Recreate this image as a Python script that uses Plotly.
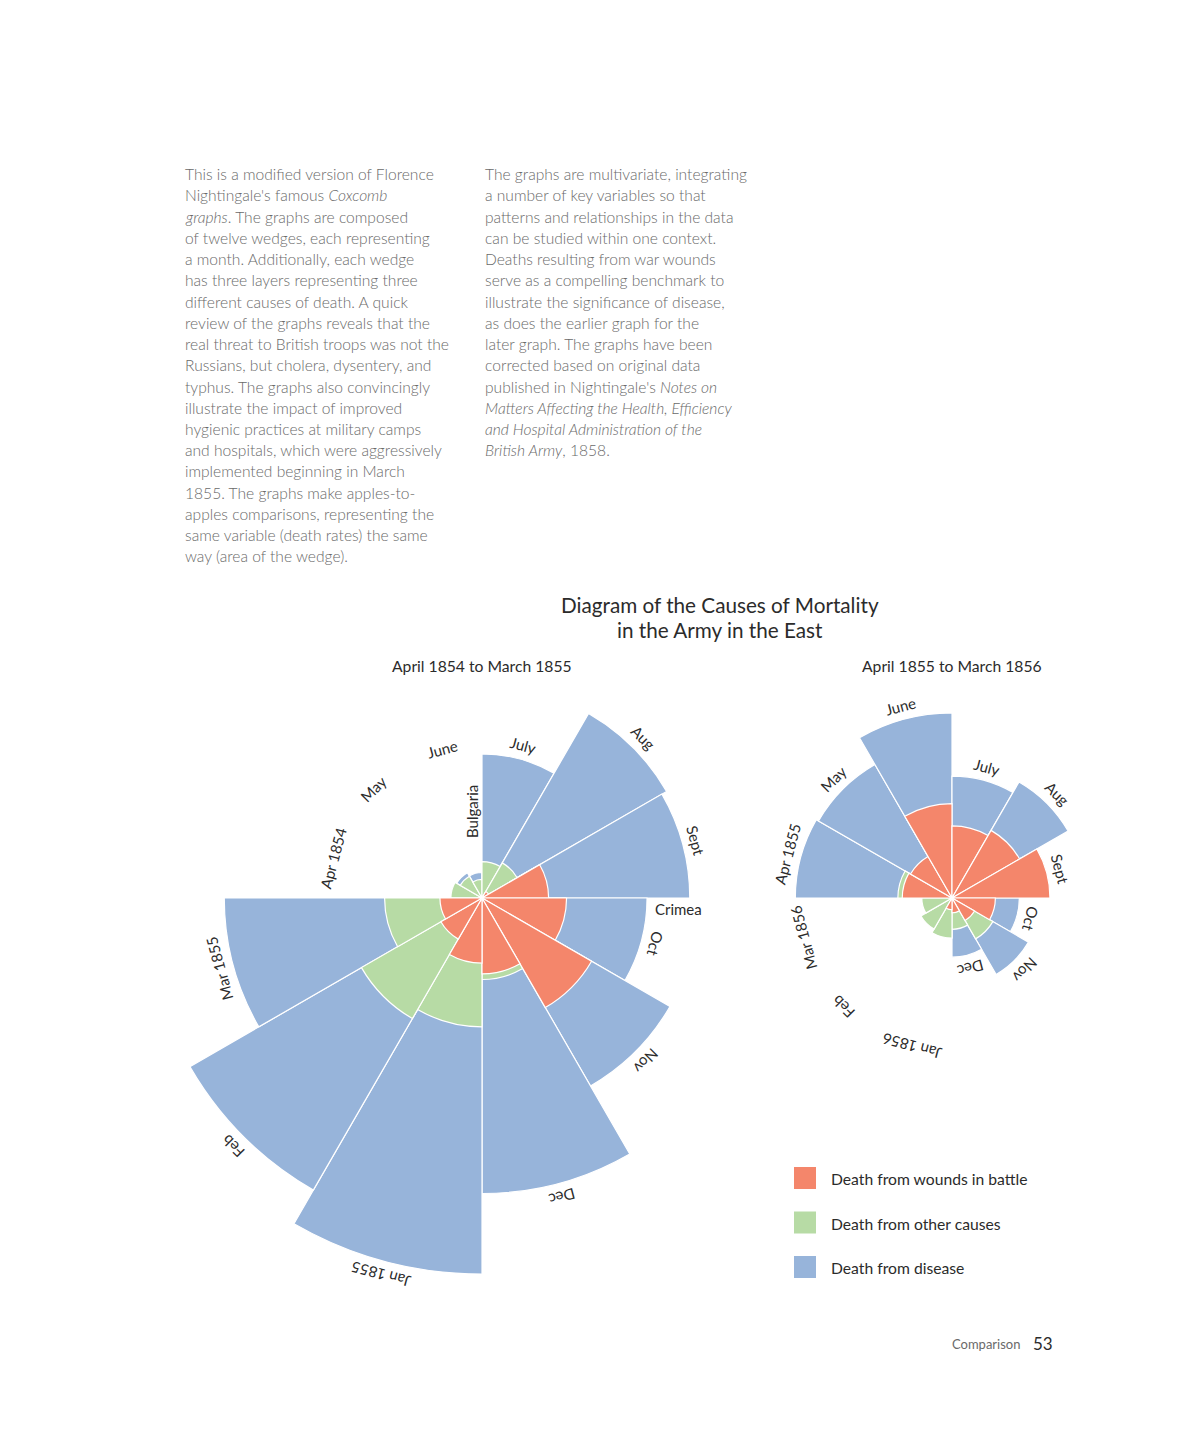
import math
import plotly.graph_objects as go

W, H = 1200, 1442

# ---------------- data (annual mortality rate per 1,000) ----------------
months_1 = ["Apr 1854", "May", "June", "July", "Aug", "Sept", "Oct", "Nov", "Dec",
            "Jan 1855", "Feb", "Mar 1855"]
disease_1 = [1.4, 6.2, 4.7, 150.0, 328.5, 312.2, 197.0, 340.6, 631.5, 1022.8, 822.8, 480.3]
wounds_1 = [0.0, 0.0, 0.0, 0.0, 0.4, 32.1, 51.7, 115.8, 41.7, 30.7, 16.3, 12.8]
other_1 = [7.0, 4.6, 2.5, 9.6, 11.9, 27.7, 50.1, 42.8, 48.0, 120.0, 140.1, 68.6]

months_2 = ["Apr 1855", "May", "June", "July", "Aug", "Sept", "Oct", "Nov", "Dec",
            "Jan 1856", "Feb", "Mar 1856"]
disease_2 = [177.5, 171.8, 247.6, 107.5, 129.9, 47.5, 32.8, 56.4, 25.3, 11.4, 6.6, 3.9]
wounds_2 = [17.9, 16.6, 64.5, 37.7, 44.1, 69.4, 13.6, 4.9, 1.6, 1.0, 0.0, 0.0]
other_2 = [21.2, 12.5, 9.6, 7.7, 7.1, 10.6, 8.2, 16.1, 7.1, 11.6, 9.3, 6.6]

series_names = ["Death from wounds in battle", "Death from other causes", "Death from disease"]
colors = {"wounds": "#F4866B", "other": "#B7DBA5", "disease": "#97B4DA"}

text_col1 = [
    "This is a modified version of Florence",
    "Nightingale's famous <i>Coxcomb</i>",
    "<i>graphs</i>. The graphs are composed",
    "of twelve wedges, each representing",
    "a month. Additionally, each wedge",
    "has three layers representing three",
    "different causes of death. A quick",
    "review of the graphs reveals that the",
    "real threat to British troops was not the",
    "Russians, but cholera, dysentery, and",
    "typhus. The graphs also convincingly",
    "illustrate the impact of improved",
    "hygienic practices at military camps",
    "and hospitals, which were aggressively",
    "implemented beginning in March",
    "1855. The graphs make apples-to-",
    "apples comparisons, representing the",
    "same variable (death rates) the same",
    "way (area of the wedge).",
]
text_col2 = [
    "The graphs are multivariate, integrating",
    "a number of key variables so that",
    "patterns and relationships in the data",
    "can be studied within one context.",
    "Deaths resulting from war wounds",
    "serve as a compelling benchmark to",
    "illustrate the significance of disease,",
    "as does the earlier graph for the",
    "later graph. The graphs have been",
    "corrected based on original data",
    "published in Nightingale's <i>Notes on</i>",
    "<i>Matters Affecting the Health, Efficiency</i>",
    "<i>and Hospital Administration of the</i>",
    "<i>British Army</i>, 1858.",
]

# ---------------- layout geometry ----------------
SCALE = 11.76            # px per sqrt(rate)
C1 = (482, 898)          # centre of left rose (px)
C2 = (952, 898)          # centre of right rose (px)
RMAX1, RMAX2 = 33.0, 17.0
ROT = 165                # centre angle of first month (deg, ccw from east)

FONT = "Lato"
DARK = "#2b2b2b"
GREY = "#6a6a6a"


def domain(c, rmax):
    R = rmax * SCALE
    return dict(x=[(c[0] - R) / W, (c[0] + R) / W],
                y=[1 - (c[1] + R) / H, 1 - (c[1] - R) / H])


def px(x, y):
    return x / W, 1 - y / H


fig = go.Figure()

for pid, months, dis, wou, oth in [("polar", months_1, disease_1, wounds_1, other_1),
                                   ("polar2", months_2, disease_2, wounds_2, other_2)]:
    for key, name, vals in [("disease", series_names[2], dis),
                            ("other", series_names[1], oth),
                            ("wounds", series_names[0], wou)]:
        fig.add_trace(go.Barpolar(
            r=[math.sqrt(v) for v in vals],
            theta=months,
            customdata=vals,
            name=name,
            subplot=pid,
            marker=dict(color=colors[key], line=dict(color="white", width=1.2)),
            hovertemplate="%{theta}<br>" + name + ": %{customdata}<extra></extra>",
            showlegend=False,
        ))


def polar_cfg(c, rmax, months):
    return dict(
        domain=domain(c, rmax),
        bgcolor="rgba(0,0,0,0)",
        barmode="overlay",
        bargap=0,
        hole=0,
        radialaxis=dict(visible=False, range=[0, rmax]),
        angularaxis=dict(direction="clockwise", rotation=ROT, type="category",
                         categoryorder="array", categoryarray=months, period=12,
                         showline=False, showgrid=False, showticklabels=False, ticks=""),
    )


annotations = []

# month labels around each rose
for c, months, dis, wou, oth in [(C1, months_1, disease_1, wounds_1, other_1),
                                 (C2, months_2, disease_2, wounds_2, other_2)]:
    for i, m in enumerate(months):
        ang = ROT - 30 * i
        rv = max(math.sqrt(dis[i]), math.sqrt(wou[i]), math.sqrt(oth[i])) * SCALE
        rl = rv + 14 if rv > 45 else 154
        x = c[0] + rl * math.cos(math.radians(ang))
        y = c[1] - rl * math.sin(math.radians(ang))
        xp, yp = px(x, y)
        ta = 90 - ang
        while ta > 180:
            ta -= 360
        while ta <= -180:
            ta += 360
        annotations.append(dict(x=xp, y=yp, xref="paper", yref="paper", text=m,
                                showarrow=False, textangle=ta, xanchor="center",
                                yanchor="middle",
                                font=dict(family=FONT, size=15, color=DARK)))

# body text columns
for col_x, lines in [(183, text_col1), (483, text_col2)]:
    for i, ln in enumerate(lines):
        xp, yp = px(col_x, 174 + 21.25 * i)
        annotations.append(dict(x=xp, y=yp, xref="paper", yref="paper", text=ln,
                                showarrow=False, xanchor="left", yanchor="middle",
                                font=dict(family=FONT, size=15.6, color=GREY, weight=300)))

# titles
for (x, y), t, s in [((720, 605), "Diagram of the Causes of Mortality", 20.7),
                     ((720, 630), "in the Army in the East", 20.7),
                     ((482, 666), "April 1854 to March 1855", 15.7),
                     ((952, 666), "April 1855 to March 1856", 15.7)]:
    xp, yp = px(x, y)
    annotations.append(dict(x=xp, y=yp, xref="paper", yref="paper", text=t,
                            showarrow=False, xanchor="center", yanchor="middle",
                            font=dict(family=FONT, size=s, color=DARK)))

# place names
xp, yp = px(472, 812)
annotations.append(dict(x=xp, y=yp, xref="paper", yref="paper", text="Bulgaria",
                        showarrow=False, textangle=-90, xanchor="center", yanchor="middle",
                        font=dict(family=FONT, size=15, color=DARK)))
xp, yp = px(653, 909)
annotations.append(dict(x=xp, y=yp, xref="paper", yref="paper", text="Crimea",
                        showarrow=False, xanchor="left", yanchor="middle",
                        font=dict(family=FONT, size=15, color=DARK)))

# legend
shapes = []
for i, (key, name) in enumerate([("wounds", series_names[0]), ("other", series_names[1]),
                                 ("disease", series_names[2])]):
    cy = 1178 + 44.5 * i
    x0, y0 = px(794, cy - 11)
    x1, y1 = px(816, cy + 11)
    shapes.append(dict(type="rect", xref="paper", yref="paper", x0=x0, x1=x1, y0=y1, y1=y0,
                       fillcolor=colors[key], line=dict(width=0)))
    xp, yp = px(829, cy + 1)
    annotations.append(dict(x=xp, y=yp, xref="paper", yref="paper", text=name,
                            showarrow=False, xanchor="left", yanchor="middle",
                            font=dict(family=FONT, size=15.7, color=DARK)))

# folio
xp, yp = px(1022, 1344)
annotations.append(dict(x=xp, y=yp, xref="paper", yref="paper", text="Comparison",
                        showarrow=False, xanchor="right", yanchor="middle",
                        font=dict(family=FONT, size=13, color=GREY)))
xp, yp = px(1031, 1343)
annotations.append(dict(x=xp, y=yp, xref="paper", yref="paper", text="53",
                        showarrow=False, xanchor="left", yanchor="middle",
                        font=dict(family=FONT, size=17, color=DARK)))

fig.update_layout(
    width=W, height=H,
    margin=dict(l=0, r=0, t=0, b=0),
    paper_bgcolor="white",
    plot_bgcolor="white",
    showlegend=False,
    polar=polar_cfg(C1, RMAX1, months_1),
    polar2=polar_cfg(C2, RMAX2, months_2),
    annotations=annotations,
    shapes=shapes,
)

fig.write_html("out.html",
               config={"displayModeBar": False},
               post_script="document.body.style.margin='0px';document.body.style.padding='0px';")
